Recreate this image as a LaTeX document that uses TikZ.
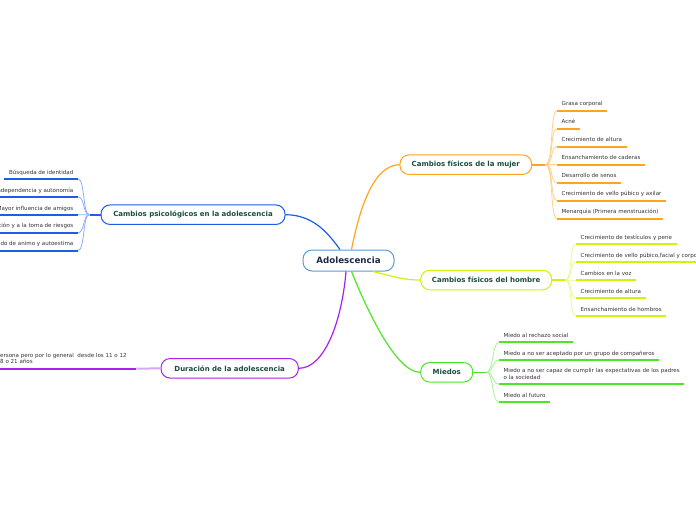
\documentclass[tikz,border=0pt]{standalone}
\usepackage{fontspec}
\setmainfont{DejaVu Sans}
\usetikzlibrary{calc}
\definecolor{blueD}{HTML}{1F5CE8}
\definecolor{blueL}{HTML}{8FAEFF}
\definecolor{orD}{HTML}{FFA41F}
\definecolor{orL}{HTML}{FFD08A}
\definecolor{yeD}{HTML}{D3F20A}
\definecolor{yeL}{HTML}{E8FA8C}
\definecolor{grD}{HTML}{4DE626}
\definecolor{grL}{HTML}{A8F294}
\definecolor{puD}{HTML}{A820EC}
\definecolor{puL}{HTML}{DDA4F8}
\definecolor{rootB}{HTML}{5B9BD5}
\definecolor{navy}{HTML}{1C2A4A}
\definecolor{dgreen}{HTML}{1B4D3E}
\definecolor{leafT}{HTML}{333333}
\tikzset{
  rootnode/.style={draw=rootB, line width=1pt, rounded corners=9pt, fill=white, text=navy,
    font=\bfseries\fontsize{8.7}{10}\selectfont, minimum width=91pt, minimum height=21pt, inner sep=0pt},
  branch/.style={rounded corners=9pt, fill=white, line width=1pt, text=dgreen,
    font=\bfseries\fontsize{7}{8.5}\selectfont, minimum height=19.5pt, inner sep=0pt},
  leaf/.style={font=\fontsize{5.55}{6.6}\selectfont, text=leafT, inner xsep=4.5pt, inner ysep=3pt,
    text height=4pt, text depth=1.6pt},
  multi/.style={align=left, text height={}},
  conn/.style={line width=1.2pt},
  hubline/.style={line width=1.6pt},
  twig/.style={line width=0.8pt},
  ul/.style={line width=2pt}
}
\begin{document}
\begin{tikzpicture}[x=1pt,y=-1pt]
\useasboundingbox (0,0) rectangle (696,520);
\clip (0,0) rectangle (696,520);

% main nodes
\node[rootnode] (root) at (348.5,260.5) {Adolescencia};
\node[branch, draw=orD, minimum width=131.7pt] (muj) at (465.8,164.7) {Cambios físicos de la mujer};
\node[branch, draw=yeD, minimum width=131pt] (hom) at (486.2,280) {Cambios físicos del hombre};
\node[branch, draw=grD, minimum width=52pt] (mie) at (446.7,372.3) {Miedos};
\node[branch, draw=puD, minimum width=137.3pt] (dur) at (229.7,368.3) {Duración de la adolescencia};
\node[branch, draw=blueD, minimum width=184pt] (psi) at (193,214.7) {Cambios psicológicos en la adolescencia};

% main connectors
\draw[conn, blueD] (psi.east) .. controls (315,214.7) and (330,236) .. ($(root.north)+(-8.5,0)$);
\draw[conn, orD] ($(root.north)+(3,0)$) .. controls (357,222) and (370,164.7) .. (muj.west);
\draw[conn, yeD] ($(root.south)+(24.5,0)$) .. controls (392,276) and (402,280) .. (hom.west);
\draw[conn, grD] ($(root.south)+(3,0)$) .. controls (365,305) and (395,372.3) .. (mie.west);
\draw[conn, puD] ($(root.south)+(-2.5,0)$) .. controls (342,320) and (325,368.3) .. (dur.east);

% mujer leaves
\node[leaf, anchor=south west] (m1) at (557,110.7) {Grasa corporal};
\node[leaf, anchor=south west] (m2) at (557,128.7) {Acné};
\node[leaf, anchor=south west] (m3) at (557,146.7) {Crecimiento de altura};
\node[leaf, anchor=south west] (m4) at (557,164.7) {Ensanchamiento de caderas};
\node[leaf, anchor=south west] (m5) at (557,182.7) {Desarrollo de senos};
\node[leaf, anchor=south west] (m6) at (557,200.7) {Crecimiento de vello púbico y axilar};
\node[leaf, anchor=south west] (m7) at (557,218.7) {Menarquia (Primera menstruación)};
\coordinate (mh) at ($(muj.east)+(13.3,0)$);
\draw[hubline, orD] (muj.east) -- (mh);
\foreach \n in {m1,m2,m3,m4,m5,m6,m7}{
  \draw[twig, orL] (mh) .. controls +(8,0) and +(-7,0) .. (\n.south west);
  \draw[ul, orD] (\n.south west) -- (\n.south east);
}

% hombre leaves
\node[leaf, anchor=south west] (h1) at (576,244) {Crecimiento de testículos y pene};
\node[leaf, anchor=south west] (h2) at (576,262) {Crecimiento de vello púbico,facial y corporal};
\node[leaf, anchor=south west] (h3) at (576,280) {Cambios en la voz};
\node[leaf, anchor=south west] (h4) at (576,298) {Crecimiento de altura};
\node[leaf, anchor=south west] (h5) at (576,316) {Ensanchamiento de hombros};
\coordinate (hh) at ($(hom.east)+(13.3,0)$);
\draw[hubline, yeD] (hom.east) -- (hh);
\foreach \n in {h1,h2,h3,h4,h5}{
  \draw[twig, yeL] (hh) .. controls +(7,0) and +(-7,0) .. (\n.south west);
  \draw[ul, yeD] (\n.south west) -- (\n.south east);
}

% miedos leaves
\node[leaf, anchor=south west] (f1) at (499,342.3) {Miedo al rechazo social};
\node[leaf, anchor=south west] (f2) at (499,360) {Miedo a no ser aceptado por un grupo de compañeros};
\node[leaf, multi, anchor=south west] (f3) at (499,384) {Miedo a no ser capaz de cumplir las expectativas de los padres\\o la sociedad};
\node[leaf, anchor=south west] (f4) at (499,402.3) {Miedo al futuro};
\coordinate (fh) at ($(mie.east)+(13.3,0)$);
\draw[hubline, grD] (mie.east) -- (fh);
\foreach \n in {f1,f2,f3,f4}{
  \draw[twig, grL] (fh) .. controls +(7,0) and +(-7,0) .. (\n.south west);
  \draw[ul, grD] (\n.south west) -- (\n.south east);
}

% psicologicos leaves
\node[leaf, anchor=south east] (p1) at (78,179) {Búsqueda de identidad};
\node[leaf, anchor=south east] (p2) at (78,196.9) {Independencia y autonomía};
\node[leaf, anchor=south east] (p3) at (78,214.8) {Mayor influencia de amigos};
\node[leaf, anchor=south east] (p4) at (78,232.7) {Tendencia a la experimentación y a la toma de riesgos};
\node[leaf, anchor=south east] (p5) at (78,250.5) {Cambios en el estado de animo y autoestima};
\coordinate (ph) at ($(psi.west)+(-11,0)$);
\draw[hubline, blueD] (psi.west) -- (ph);
\foreach \n in {p1,p2,p3,p4,p5}{
  \draw[twig, blueL] (ph) .. controls +(-7,0) and +(7,0) .. (\n.south east);
  \draw[ul, blueD] (\n.south west) -- (\n.south east);
}

% duracion leaf
\node[leaf, multi, anchor=south west, inner xsep=4.5pt] (d1) at (-8,368.7) {persona pero por lo general\ \ desde los 11 o 12\\18 o 21 años\hspace*{0pt}};
\coordinate (d1e) at ($(d1.south east)+(5,0)$);
\draw[ul, puL] (d1e) -- (dur.west);
\draw[ul, puD] (d1.south west) -- (d1e);
\end{tikzpicture}
\end{document}
